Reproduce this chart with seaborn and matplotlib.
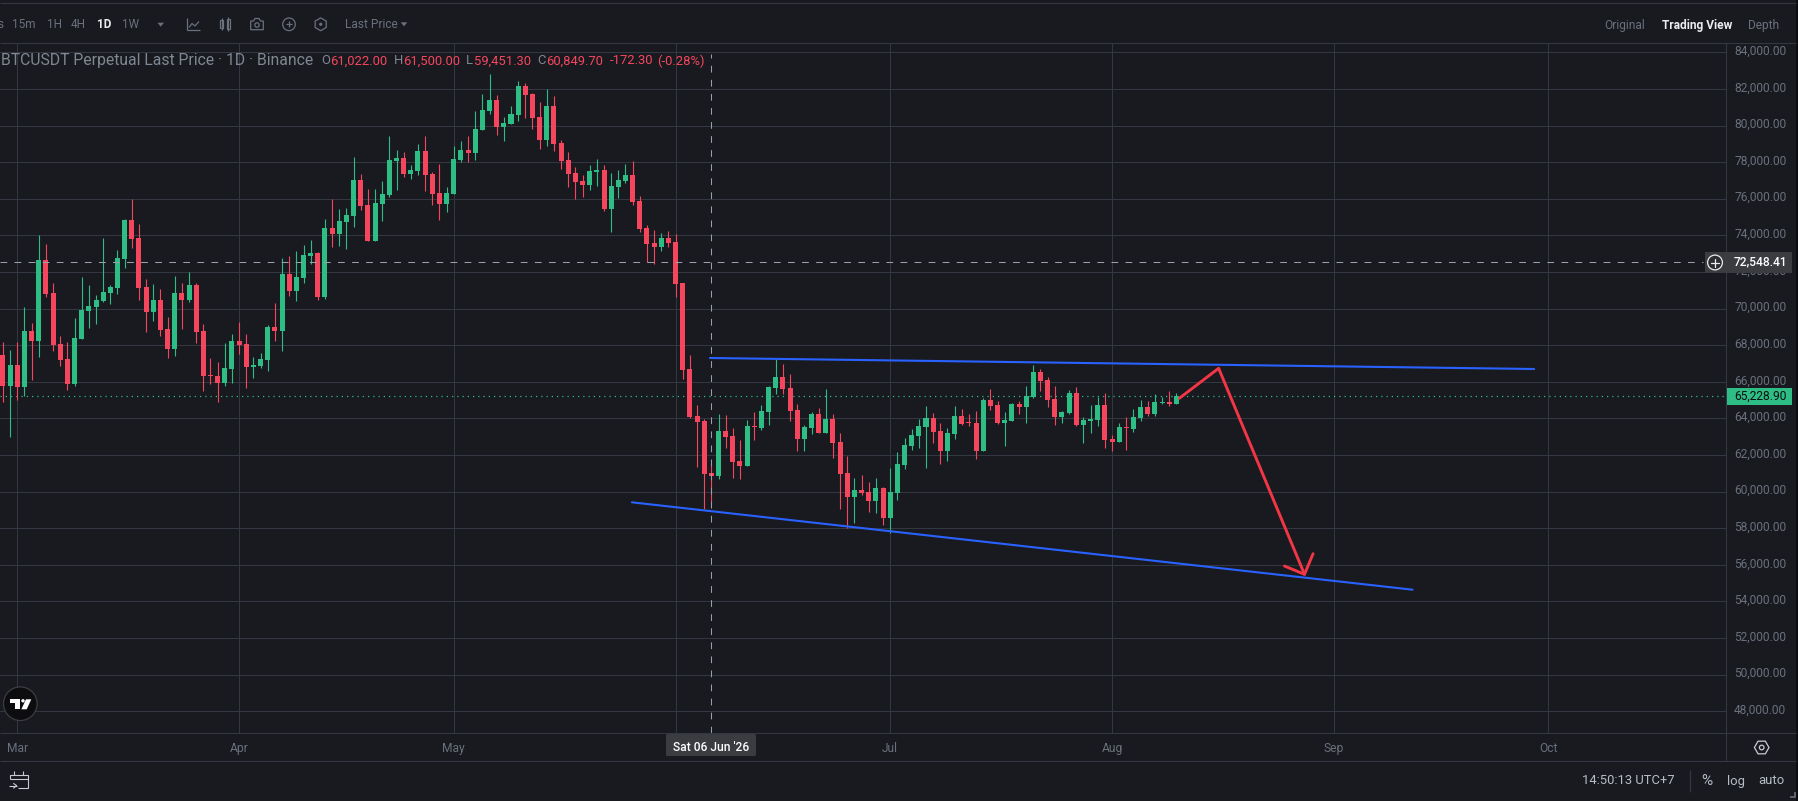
"""BTCUSDT perpetual daily candles with hand drawn channel and projection."""

import matplotlib
matplotlib.use("Agg")
import matplotlib.pyplot as plt
from matplotlib.patches import Circle, FancyBboxPatch, Polygon, Rectangle
from matplotlib.transforms import ScaledTranslation
import numpy as np
import pandas as pd
import seaborn as sns

BG = "#181a20"
GRID = "#323741"
MUTED = "#6a707c"
LEGEND_GREY = "#7f8792"
UP = "#2ebd85"
DOWN = "#f6465d"
BLUE = "#2962ff"
ARROW = "#f23645"

start_date = "2026-02-27"

opens = [
    67463, 65770, 66917, 65715, 68774, 68228, 72653, 70850, 68064, 67245,
    65879, 68337, 69867, 70086, 70413, 70850, 71124, 72708, 74838, 73855,
    71178, 69812, 70468, 68884, 67791, 70850, 70468, 71287, 68774, 66371,
    66316, 65934, 66699, 68228, 68064, 66808, 66862, 67190, 68993, 68774,
    71888, 70960, 71670, 72872, 73036, 70632, 74401, 74074, 74729, 75057,
    77024, 75658, 73691, 75712, 76204, 78061, 78225, 77351, 77515, 78608,
    77351, 76313, 75712, 76259, 78116, 78662, 78498, 79755, 80793, 81394,
    79919, 80083, 80574, 82159, 81722, 80465, 79209, 81066, 79045, 78116,
    77406, 76969, 76750, 77460, 77570, 75439, 76641, 76969, 77297, 75876,
    74401, 73582, 73363, 73855, 73636, 71397, 66698, 64131, 63858, 61022,
    60850, 63311, 63038, 61672, 61399, 63584, 63475, 64349, 65660, 66261,
    65660, 64458, 62874, 63475, 64240, 63202, 63967, 62710, 61017, 59706,
    60088, 59979, 59487, 60197, 58558, 59924, 61454, 62492, 63039, 63530,
    64022, 63312, 62219, 63148, 64131, 63803, 63749, 62219, 65005, 64732,
    63749, 63858, 64787, 64623, 65169, 66535, 66098, 65060, 64076, 64295,
    65388, 63639, 63858, 63913, 64732, 62875, 62711, 63530, 63421, 64022,
    64623, 64240, 64841, 64896, 64787,
]
highs = [
    68155, 67736, 68155, 70086, 69212, 74019, 73527, 71397, 68501, 68155,
    69485, 71724, 71287, 70741, 73855, 71287, 73199, 74893, 75986, 74620,
    71615, 71342, 71069, 69539, 71779, 71397, 71998, 71397, 69157, 67299,
    67081, 68119, 68611, 69266, 68611, 67354, 67573, 69102, 70304, 72762,
    72872, 73145, 73473, 73746, 73090, 74893, 75967, 75439, 75494, 78280,
    77351, 76514, 76514, 76969, 79427, 78662, 78535, 77825, 78990, 79427,
    77460, 77897, 76641, 78881, 79154, 79427, 80793, 81722, 82814, 81667,
    80465, 81066, 82432, 82323, 81776, 81285, 81995, 81612, 79209, 78553,
    77734, 77297, 77825, 78171, 77825, 77406, 77570, 77897, 78061, 76149,
    74565, 74292, 74128, 74237, 74073, 71397, 67463, 64732, 63949, 61500,
    64240, 64185, 63475, 62820, 63912, 64349, 64732, 65770, 67245, 66971,
    66425, 64786, 63639, 64349, 64568, 65606, 64240, 63202, 61946, 60744,
    60908, 60525, 60744, 60252, 61290, 62164, 62929, 63421, 63967, 64677,
    64295, 63749, 63476, 64677, 64514, 64240, 64404, 65114, 65606, 64951,
    64350, 64841, 64951, 65770, 66917, 66699, 66262, 65770, 64404, 65551,
    65715, 64076, 64732, 65169, 65388, 63093, 63749, 64076, 64514, 65005,
    64951, 65333, 65169, 65497, 65388,
]
lows = [
    64914, 62984, 65005, 65224, 66098, 67354, 70632, 67682, 66862, 65551,
    65770, 68337, 68938, 69157, 70359, 70249, 70796, 72216, 73309, 70468,
    68720, 69321, 68501, 67299, 67409, 68884, 70359, 68119, 65497, 65879,
    64896, 65770, 65934, 67518, 65661, 66207, 66753, 66589, 68228, 67682,
    70687, 70413, 71397, 72435, 70468, 70523, 73382, 73418, 73254, 74456,
    75385, 73691, 73691, 74784, 76095, 76477, 77187, 77078, 77297, 76422,
    75658, 74838, 75275, 76259, 78007, 78007, 78116, 79755, 80629, 79482,
    79154, 80083, 80247, 80410, 79810, 78717, 78881, 78608, 77624, 76641,
    75985, 76095, 76477, 76696, 75330, 74183, 76040, 76860, 75658, 74183,
    72544, 72435, 73145, 73363, 70632, 66152, 64021, 61345, 59050, 59451,
    60689, 62383, 60744, 60689, 61399, 62820, 63366, 63639, 65333, 65333,
    63858, 62219, 62219, 63147, 63202, 63202, 61836, 59050, 58012, 58285,
    59815, 58886, 58832, 58176, 57721, 59542, 61236, 62274, 62383, 61290,
    62656, 61509, 61673, 62875, 63639, 63585, 61782, 62219, 64459, 63694,
    62492, 63858, 64240, 63749, 65114, 65497, 64623, 63639, 63749, 64240,
    63585, 62656, 63202, 63585, 62383, 62219, 62711, 62274, 63257, 63858,
    64131, 64131, 64787, 64677, 64787,
]
closes = [
    65770, 66917, 65715, 68774, 68228, 72653, 70796, 68010, 67190, 65879,
    68392, 69922, 70140, 70468, 70905, 71178, 72762, 74838, 73800, 71124,
    69812, 70468, 68829, 67791, 70850, 70468, 71287, 68720, 66316, 66316,
    65934, 66753, 68228, 68010, 66808, 66917, 67245, 68993, 68774, 71888,
    70960, 71724, 72926, 73036, 70632, 74401, 74074, 74784, 75112, 77024,
    75603, 73691, 75767, 76259, 78116, 78225, 77351, 77570, 78608, 77297,
    76259, 75712, 76313, 78171, 78662, 78498, 79810, 80847, 81394, 79919,
    80137, 80629, 82159, 81667, 80410, 79209, 81066, 78990, 78061, 77351,
    76914, 76750, 77515, 77570, 75439, 76696, 77023, 77297, 75822, 74347,
    73527, 73363, 73855, 73582, 71342, 66644, 64076, 63803, 60962, 60850,
    63311, 62983, 61618, 61399, 63584, 63530, 64404, 65715, 66261, 65606,
    64404, 62874, 63530, 64240, 63202, 63967, 62656, 60962, 59706, 60088,
    59924, 59487, 60197, 58558, 59979, 61508, 62547, 63093, 63585, 64022,
    63257, 62219, 63202, 64131, 63694, 63749, 62219, 65005, 64677, 63749,
    63913, 64787, 64623, 65224, 66535, 66043, 65005, 64076, 64350, 65388,
    63639, 63913, 63967, 64732, 62820, 62711, 63530, 63476, 64076, 64623,
    64240, 64896, 64896, 64787, 65229,
]

# hand drawn overlays, x in days after 1 Mar 2026
upper_days = [96.8, 212.0]
upper_prices = [67300, 66699]
lower_days = [85.9, 195.0]
lower_prices = [59416, 54642]
path_days = [162.4, 167.9, 179.9]
path_prices = [65098, 66737, 55483]
head_days = [177.1, 179.9, 181.1]
head_prices = [55936, 55483, 56608]

# Jun sits under the crosshair date tag
month_labels = ["Mar", "Apr", "May", "", "Jul", "Aug", "Sep", "Oct"]
month_starts = pd.date_range("2026-03-01", periods=8, freq="MS")
price_ticks = list(range(48000, 86000, 2000))
last_price = 65228.90
cross_price = 72548.41
cross_date = "2026-06-06"

sns.set_theme(style="darkgrid", rc={
    "figure.facecolor": BG,
    "axes.facecolor": BG,
    "axes.edgecolor": GRID,
    "grid.color": GRID,
    "grid.linewidth": 0.72,
    "savefig.facecolor": BG,
})
plt.rcParams["font.family"] = ["Roboto", "DejaVu Sans"]

origin = pd.Timestamp("2026-03-01")
dates = pd.date_range(start_date, periods=len(opens), freq="D")
df = pd.DataFrame({
    "day": (dates - origin).days,
    "open": opens, "high": highs, "low": lows, "close": closes,
})
df["bottom"] = df[["open", "close"]].min(axis=1)
df["height"] = (df["open"] - df["close"]).abs()
df["rising"] = df["close"] >= df["open"]

fig = plt.figure(figsize=(17.98, 8.01), dpi=100)
ax = fig.add_axes([0, (801 - 733.3) / 801, 1726.3 / 1798, 690 / 801])

for rising, color in [(True, UP), (False, DOWN)]:
    part = df[df["rising"] == rising]
    ax.vlines(part["day"], part["low"], part["high"], color=color, lw=0.8, zorder=3)
    sns.barplot(data=part, x="day", y="height", bottom=part["bottom"], native_scale=True,
                width=0.7, color=color, saturation=1, errorbar=None, linewidth=0, ax=ax, zorder=4)

sns.lineplot(x=upper_days, y=upper_prices, color=BLUE, lw=1.5, ax=ax, zorder=6)
sns.lineplot(x=lower_days, y=lower_prices, color=BLUE, lw=1.5, ax=ax, zorder=6)
sns.lineplot(x=path_days, y=path_prices, color=ARROW, lw=2.1, sort=False, estimator=None, ax=ax, zorder=7)
sns.lineplot(x=head_days, y=head_prices, color=ARROW, lw=2.1, sort=False, estimator=None, ax=ax, zorder=7)

ax.axhline(last_price, color=UP, lw=0.9, ls=(0, (1, 3.2)), zorder=2)
cross_day = (pd.Timestamp(cross_date) - origin).days
ax.axhline(cross_price, xmax=1703 / 1726.3, color="#9aa0ab", lw=0.75, ls=(0, (6.5, 7)), zorder=5)
ax.axvline(cross_day, ymax=(733.3 - 54) / 690, color="#9aa0ab", lw=0.75, ls=(0, (6.5, 7)), zorder=5)

ax.set_xlim(-2.418, 238.85)
ax.set_ylim(46797, 84492)
ax.set_xticks((month_starts - origin).days, month_labels)
ax.set_yticks(price_ticks, [f"{p:,.2f}" for p in price_ticks])
ax.yaxis.tick_right()
ax.tick_params(axis="y", length=0, pad=5.6, labelsize=8.64, labelcolor=MUTED)
ax.tick_params(axis="x", length=0, pad=6.5, labelsize=8.64, labelcolor=MUTED)
up_shift = ScaledTranslation(0, 1.8 / 72, fig.dpi_scale_trans)
for tick_label in ax.get_yticklabels():
    tick_label.set_transform(tick_label.get_transform() + up_shift)
ax.set_xlabel("")
ax.set_ylabel("")
for spine in ax.spines.values():
    spine.set_visible(False)
ax.set_axisbelow(True)

# everything around the plot is placed in screen pixels on an overlay
ui = fig.add_axes([0, 0, 1, 1], facecolor="none")
ui.set_xlim(0, 1798)
ui.set_ylim(801, 0)
ui.axis("off")


def label(x, y, text, color=MUTED, size=8.64, ha="left", weight="normal"):
    ui.text(x, y, text, color=color, fontsize=size, ha=ha, va="center", fontweight=weight)


def stroke(xs, ys, color=MUTED, lw=0.9):
    ui.plot(xs, ys, color=color, lw=lw, solid_capstyle="butt", solid_joinstyle="miter")


# frame lines
for y in [3.3, 43.3, 733.3, 761]:
    stroke([0, 1796], [y, y], color=GRID, lw=0.8)
stroke([1726.3, 1726.3], [43.3, 761], color=GRID, lw=0.8)
ui.add_patch(Rectangle((1796, 0), 2, 801, color="#0b0d11", lw=0))

# toolbar
for x, text in [(-3, "s"), (12, "15m"), (47, "1H"), (71, "4H"), (122, "1W")]:
    label(x, 25, text, size=8.5)
label(97, 25, "1D", color="#eaecef", size=8.5, weight="bold")
ui.add_patch(Polygon([(157.5, 22.7), (164, 22.7), (160.7, 26.7)], color=MUTED, lw=0))
ui.add_patch(Polygon([(400.7, 22.3), (407.3, 22.3), (404, 26.3)], color=MUTED, lw=0))
label(345, 25, "Last Price", size=8.6)
label(1604, 25, "Original", size=8.6)
label(1661.7, 25, "Trading View", color="#eaecef", size=8.6, weight="bold")
label(1747.7, 25, "Depth", size=8.6)

stroke([187, 187, 199.5], [17.7, 30.3, 30.3])
stroke([189, 192, 195, 199], [27.5, 23.5, 26, 21.5])
for x, top, bot in [(221.7, 20, 27.7), (228.3, 19, 29)]:
    ui.add_patch(Rectangle((x - 1.7, top), 3.4, bot - top, fill=False, ec=MUTED, lw=0.9))
    stroke([x, x], [top - 2, bot + 2])
ui.add_patch(Polygon([(250.7, 21), (253.5, 21), (255, 18.5), (259, 18.5), (260.5, 21), (263.3, 21),
                      (263.3, 29.7), (250.7, 29.7)], fill=False, ec=MUTED, lw=0.9))
ui.add_patch(Circle((257, 25), 2.2, fill=False, ec=MUTED, lw=0.9))
ui.add_patch(Circle((289, 24.3), 6.3, fill=False, ec=MUTED, lw=0.9))
stroke([286, 292], [24.3, 24.3])
stroke([289, 289], [21.3, 27.3])
hex_angles = np.deg2rad(np.arange(30, 390, 60))
ui.add_patch(Polygon(np.c_[320.7 + 6.4 * np.cos(hex_angles), 24.3 + 6.4 * np.sin(hex_angles)],
                     fill=False, ec=MUTED, lw=0.9))
ui.add_patch(Circle((320.7, 24.3), 1.6, color=MUTED, lw=0))

# legend row
label(1.4, 61, "BTCUSDT Perpetual Last Price · 1D · Binance", color=LEGEND_GREY, size=11.3)
for x, text in [(321, "O"), (393.5, "H"), (466, "L"), (537, "C")]:
    label(x, 61, text, color=LEGEND_GREY, size=9.4)
for x, text in [(330.6, "61,022.00"), (403, "61,500.00"), (474, "59,451.30"),
                (546, "60,849.70"), (610, "-172.30"), (657, "(-0.28%)")]:
    label(x, 61, text, color=DOWN, size=9.4)

# price tags
ui.add_patch(Rectangle((1705, 251.7), 86.7, 21, color="#3a3c40", lw=0, zorder=8))
ui.add_patch(Circle((1715, 262.5), 7.4, fc="#2b2d31", ec="#eaecef", lw=0.9, zorder=9))
ui.plot([1711, 1719], [262.5, 262.5], color="#eaecef", lw=0.9, zorder=9)
ui.plot([1715, 1715], [258.5, 266.5], color="#eaecef", lw=0.9, zorder=9)
ui.text(1734, 262, f"{cross_price:,.2f}", color="#ffffff", fontsize=8.64, va="center", zorder=9,
        fontweight="medium")
ui.add_patch(Rectangle((1727, 387.7), 64.7, 17.3, color=UP, lw=0, zorder=8))
ui.text(1734, 396, f"{last_price:,.2f}", color="#0b0e11", fontsize=8.64, va="center", zorder=9)

# crosshair date tag
ui.add_patch(FancyBboxPatch((666, 734), 90, 22, boxstyle="round,pad=0,rounding_size=1.5",
                            color="#3a3c40", lw=0, zorder=8))
ui.text(711, 747.5, "Sat 06 Jun '26", color="#ffffff", fontsize=8.64, ha="center", va="center",
        fontweight="medium", zorder=9)

# logo
ui.add_patch(Circle((20.3, 703.7), 16.8, fc="#0d0d0f", ec="#3c3e44", lw=0.9, zorder=8))
ui.add_patch(Polygon([(10, 699.3), (20, 699.3), (20, 709.3), (14.7, 709.3), (14.7, 703.3), (10, 703.3)],
                     color="white", lw=0, zorder=9))
ui.add_patch(Circle((23, 700.8), 1.7, color="white", lw=0, zorder=9))
ui.add_patch(Polygon([(26, 699.3), (31.3, 699.3), (26.7, 709.3), (21.3, 709.3)], color="white", lw=0, zorder=9))

# bottom bar
label(1581.7, 781, "14:50:13 UTC+7", color="#b7bdc6", size=9.4)
stroke([1690, 1690], [770, 792], color=GRID)
label(1701.5, 781, "%", color="#b7bdc6", size=11)
label(1727.5, 781, "log", color="#b7bdc6", size=9.4)
label(1758, 781, "auto", color="#b7bdc6", size=9.4)
stroke([1790, 1795, 1795], [796.5, 796.5, 791.5], color="#6a707c", lw=1.2)

cal = "#c8ccd2"
stroke([10, 10, 27.7, 27.7, 18.3], [778.7, 775, 775, 788.3, 788.3], color=cal, lw=0.8)
stroke([10, 27.7], [778.7, 778.7], color=cal, lw=0.8)
stroke([14, 14], [771, 775], color=cal, lw=0.8)
stroke([22.7, 22.7], [771, 775], color=cal, lw=0.8)
stroke([9.3, 16.7], [785.7, 785.7], color=cal, lw=0.8)
stroke([13.3, 16.7, 13.3], [783.3, 785.7, 788.3], color=cal, lw=0.8)

set_angles = np.deg2rad(np.arange(0, 360, 60))
ui.add_patch(Polygon(np.c_[1761.7 + 7.3 * np.cos(set_angles), 747.5 + 7.3 * np.sin(set_angles)],
                     fill=False, ec="#c8ccd2", lw=0.9))
ui.add_patch(Circle((1761.7, 747.5), 2.3, fill=False, ec="#c8ccd2", lw=0.9))

fig.savefig("out.png", dpi=100)
plt.close(fig)
